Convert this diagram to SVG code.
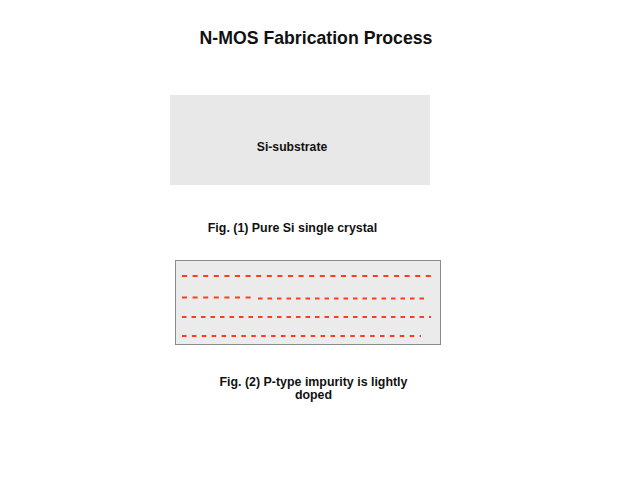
<svg xmlns="http://www.w3.org/2000/svg" width="638" height="478" viewBox="0 0 638 478">
<style>
text{font-family:"Liberation Sans",Arial,sans-serif;font-weight:bold;fill:#111}
.d{stroke:#ff3b1a;stroke-width:2;fill:none}
</style>
<rect width="638" height="478" fill="#fff"/>
<text x="316" y="44" font-size="17.7" text-anchor="middle">N-MOS Fabrication Process</text>
<g id="substrate1">
<rect x="170" y="95" width="260" height="90" fill="#e8e8e8"/>
<text x="292" y="151" font-size="12.2" text-anchor="middle">Si-substrate</text>
</g>
<text id="fig1" x="292.5" y="232" font-size="12.4" text-anchor="middle">Fig. (1) Pure Si single crystal</text>
<g id="substrate2">
<rect x="175.5" y="260.5" width="265" height="84" fill="#ebebeb" stroke="#8a8a8a" stroke-width="1"/>
<path class="d" d="M182 276H436" stroke-dasharray="5 5.6"/>
<path class="d" d="M182 297.5H255" stroke-dasharray="5 5.6"/>
<path class="d" d="M258 298.5H428" stroke-dasharray="4.5 5"/>
<path class="d" d="M182 317H431" stroke-dasharray="4.5 5"/>
<path class="d" d="M182 336H421" stroke-dasharray="4.5 5.4"/>
</g>
<text id="fig2" font-size="12.4" text-anchor="middle"><tspan x="313.5" y="386">Fig. (2) P-type impurity is lightly</tspan><tspan x="313.5" y="399">doped</tspan></text>
</svg>
